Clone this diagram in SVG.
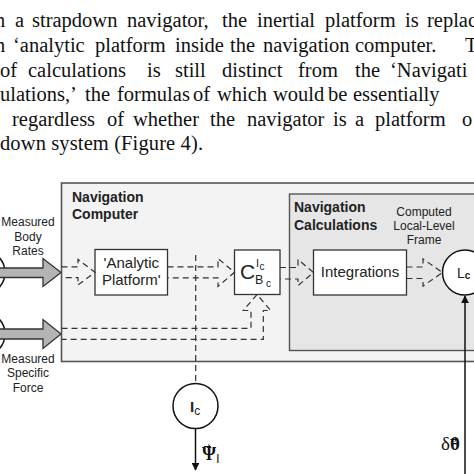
<svg xmlns="http://www.w3.org/2000/svg" width="474" height="474" viewBox="0 0 474 474">
<defs>
<style>
.body{font-family:"Liberation Serif","Times New Roman",serif;font-size:20.5px;fill:#111}
.sans{font-family:"Liberation Sans",Arial,sans-serif;fill:#222}
.lbl{font-size:12px;text-anchor:middle}
.bold{font-weight:bold;font-size:14px}
.box{fill:#fff;stroke:#333;stroke-width:1.3}
.dash{fill:none;stroke:#333;stroke-width:1.2;stroke-dasharray:6 4}
.gray{fill:#b4b4b4;stroke:#333;stroke-width:1.3}
.solid{fill:none;stroke:#111;stroke-width:1.5}
</style>
<marker id="ah" viewBox="0 0 10 10" refX="9" refY="5" markerWidth="8" markerHeight="8" markerUnits="userSpaceOnUse" orient="auto"><path d="M0,0 L10,5 L0,10 Z" fill="#111"/></marker>
</defs>
<rect width="474" height="474" fill="#fff"/>

<g id="paragraph" class="body">
<text y="27"><tspan x="-5">n</tspan><tspan x="15">a</tspan><tspan x="32">strapdown</tspan><tspan x="127">navigator,</tspan><tspan x="222">the</tspan><tspan x="257">inertial</tspan><tspan x="325">platform</tspan><tspan x="405">is</tspan><tspan x="427">replac</tspan></text>
<text y="52"><tspan x="-5">n</tspan><tspan x="13">‘analytic</tspan><tspan x="95">platform</tspan><tspan x="175">inside</tspan><tspan x="230">the</tspan><tspan x="263">navigation</tspan><tspan x="355">computer.</tspan><tspan x="465">T</tspan></text>
<text y="77"><tspan x="0">of</tspan><tspan x="28">calculations</tspan><tspan x="147">is</tspan><tspan x="175">still</tspan><tspan x="222">distinct</tspan><tspan x="298">from</tspan><tspan x="355">the</tspan><tspan x="390">‘Navigati</tspan></text>
<text y="101"><tspan x="0">ulations,’</tspan><tspan x="85">the</tspan><tspan x="117">formulas</tspan><tspan x="193">of</tspan><tspan x="217">which</tspan><tspan x="273">would</tspan><tspan x="328">be</tspan><tspan x="353">essentially</tspan></text>
<text y="126"><tspan x="12">regardless</tspan><tspan x="107">of</tspan><tspan x="133">whether</tspan><tspan x="210">the</tspan><tspan x="247">navigator</tspan><tspan x="333">is</tspan><tspan x="355">a</tspan><tspan x="375">platform</tspan><tspan x="462">o</tspan></text>
<text x="0" y="150" textLength="203" lengthAdjust="spacing">down system (Figure 4).</text>
</g>

<g id="nav-computer">
<rect x="61.5" y="183" width="420" height="178.5" fill="#f3f3f3" stroke="#555" stroke-width="1.6"/>
<text class="sans bold" x="72" y="202">Navigation</text>
<text class="sans bold" x="72" y="219">Computer</text>
</g>

<g id="nav-calculations">
<rect x="289.5" y="194" width="200" height="156.5" fill="#e6e6e6" stroke="#555" stroke-width="1.4"/>
<text class="sans bold" x="294" y="211.5">Navigation</text>
<text class="sans bold" x="294" y="229.5">Calculations</text>
<text class="sans lbl" x="424" y="216">Computed</text>
<text class="sans lbl" x="424" y="230">Local-Level</text>
<text class="sans lbl" x="424" y="244">Frame</text>
</g>

<g id="body-rates">
<circle cx="-17" cy="272.5" r="22" fill="#fff" stroke="#111" stroke-width="1.5"/>
<path class="gray" d="M-2,268 H43 V258.5 L61,272.5 L43,286.5 V277.5 H-2 Z"/>
<text class="sans lbl" x="28" y="226">Measured</text>
<text class="sans lbl" x="28" y="240.5">Body</text>
<text class="sans lbl" x="28" y="255">Rates</text>
</g>

<g id="specific-force">
<circle cx="-17" cy="334" r="22" fill="#fff" stroke="#111" stroke-width="1.5"/>
<path class="gray" d="M-2,329 H43 V319.5 L61,334 L43,348.5 V339 H-2 Z"/>
<text class="sans lbl" x="28" y="362.5">Measured</text>
<text class="sans lbl" x="28" y="377">Specific</text>
<text class="sans lbl" x="28" y="391.5">Force</text>
</g>

<g id="analytic-platform">
<rect class="box" x="95" y="249.5" width="72.5" height="45.5"/>
<text class="sans" x="131.3" y="267.5" font-size="15" text-anchor="middle">'Analytic</text>
<text class="sans" x="131.3" y="284.5" font-size="15" text-anchor="middle">Platform'</text>
</g>

<g id="cbc">
<rect class="box" x="234.5" y="250" width="45.5" height="44.5"/>
<text class="sans" x="240" y="279" font-size="21">C</text>
<text class="sans" x="256" y="267" font-size="11">I</text>
<text class="sans" x="259.5" y="270" font-size="10">c</text>
<text class="sans" x="255" y="283.5" font-size="12.5">B</text>
<text class="sans" x="266" y="286.5" font-size="10">c</text>
</g>

<g id="integrations">
<rect class="box" x="313.5" y="250" width="93" height="45"/>
<text class="sans" x="360" y="277" font-size="15" text-anchor="middle">Integrations</text>
</g>

<g id="lc">
<circle cx="465" cy="272.5" r="22.5" fill="#fff" stroke="#111" stroke-width="1.5"/>
<text class="sans" x="457" y="277.5" font-size="14">L<tspan font-size="10" font-weight="bold" dy="1">c</tspan></text>
</g>

<g id="ic">
<circle cx="195.5" cy="406" r="22.5" fill="#fff" stroke="#111" stroke-width="1.5"/>
<text class="sans" x="190" y="412" font-size="15" font-weight="bold">I<tspan font-size="12" font-weight="normal" dy="3">c</tspan></text>
</g>

<g id="connectors">
<path class="dash" d="M61.5,266.8 H78 V259.5 L95,272.3 L78,285 V277.6 H61.5"/>
<path class="dash" d="M167.5,266.8 H218 V258.5 L234.5,272.3 L218,286.5 V277.8 H167.5"/>
<path class="dash" d="M280,267.5 H298 V259.5 L313.5,272.5 L298,285.5 V279 H280"/>
<path class="dash" d="M406.5,267 H423 V259 L442.5,272.5 L423,286 V278.5 H406.5"/>
<path class="dash" d="M61.5,328.3 H251 V310.5 H243.3 L257,294.5 L270.7,310.5 H263.3 V339.3 H61.5"/>
<path class="dash" d="M195.7,255 V383.5"/>
<path class="solid" d="M465,474 V296" marker-end="url(#ah)"/>
<path class="solid" d="M195.5,428.5 V470" marker-end="url(#ah)"/>
</g>

<g id="psi-label">
<text x="202" y="460" font-family="'Liberation Serif','Times New Roman',serif" font-size="18" font-weight="bold" fill="#111">Ψ</text>
<path d="M204,446.5 H210 M208,444.5 L210.5,446.5 L208,448.5" fill="none" stroke="#111" stroke-width="1"/>
<text class="sans" x="216" y="463" font-size="13">I</text>
</g>

<g id="dtheta-label">
<text x="441" y="450" font-family="'Liberation Serif','Times New Roman',serif" font-size="19" fill="#111">δ<tspan font-weight="bold">θ</tspan></text>
<path d="M450.5,439.5 H456.5 M454.5,437.5 L457,439.5 L454.5,441.5" fill="none" stroke="#111" stroke-width="1"/>
</g>
</svg>
